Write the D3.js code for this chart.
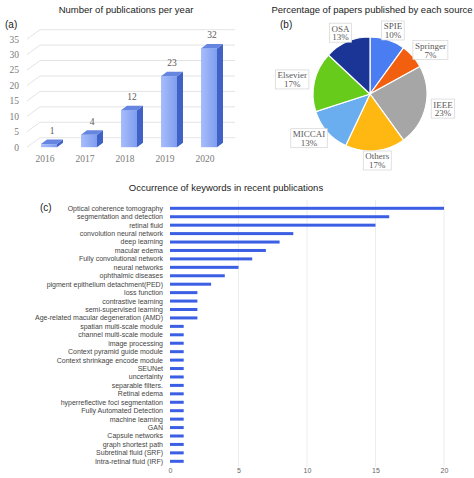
<!DOCTYPE html>
<html><head><meta charset="utf-8">
<script src="https://cdn.jsdelivr.net/npm/d3@7"></script>
<style>body{margin:0;background:#fff}svg{display:block}</style>
</head><body>
<script>
// ---- data ----
const years = ["2016","2017","2018","2019","2020"];
const pubCounts = [1, 4, 12, 23, 32];
const yTicksA = [0,5,10,15,20,25,30,35];

const sources = ["SPIE","Springer","IEEE","Others","MICCAI","Elsevier","OSA"];
const sourcePct = [10, 7, 23, 17, 13, 17, 13];
const sourceColors = ["#4a7cf2","#f2600f","#a6a6a6","#ffb812","#6aaef0","#67cb1c","#1b3596"];

const keywords = ["Optical coherence tomography","segmentation and detection","retinal fluid",
"convolution neural network","deep learning","macular edema","Fully convolutional network",
"neural networks","ophthalmic diseases","pigment epithelium detachment(PED)","loss function",
"contrastive learning","semi-supervised learning","Age-related macular degeneration (AMD)",
"spatian multi-scale module","channel multi-scale module","image processing",
"Context pyramid guide module","Context shrinkage encode module","SEUNet","uncertainty",
"separable filters.","Retinal edema","hyperreflective foci segmentation","Fully Automated Detection",
"machine learning","GAN","Capsule networks","graph shortest path","Subretinal fluid (SRF)",
"Intra-retinal fluid (IRF)"];
const keywordCounts = [20,16,15,9,8,7,6,5,4,3,2,2,2,2,1,1,1,1,1,1,1,1,1,1,1,1,1,1,1,1,1];
const xTicksC = [0,5,10,15,20];

// ---- svg ----
const W = 474, H = 478;
const svg = d3.select("body").append("svg").attr("width", W).attr("height", H);
const sans = "'Liberation Sans', Arial, sans-serif";
const serif = "'Liberation Serif', 'Times New Roman', serif";

// ===== Panel (a) =====
const gA = svg.append("g");
gA.append("text").attr("x",126).attr("y",13).attr("text-anchor","middle")
  .attr("font-family",sans).attr("font-size",9.5).attr("fill","#222").text("Number of publications per year");
gA.append("text").attr("x",5).attr("y",28).attr("font-family",sans).attr("font-size",10).attr("fill","#222").text("(a)");

const yA = d3.scaleLinear().domain([0,35]).range([147.2, 39.2]);
const xA = d3.scaleBand().domain(years).range([25,225]);
const backDx = 13, backDy = -9.5;

yTicksA.forEach(t => {
  const y = yA(t);
  gA.append("path").attr("d", `M${27},${y} L${27+backDx},${y+backDy} L${235},${y+backDy}`)
    .attr("fill","none").attr("stroke","#dcdcdc").attr("stroke-width",0.8);
  gA.append("text").attr("x",19).attr("y",y).attr("dy","0.35em").attr("text-anchor","end")
    .attr("font-family",serif).attr("font-size",9.5).attr("fill","#7a7a7a").text(t);
});

const defs = svg.append("defs");
const grad = defs.append("linearGradient").attr("id","frontGrad").attr("x1",0).attr("x2",1).attr("y1",0).attr("y2",0);
grad.append("stop").attr("offset","0%").attr("stop-color","#a7bdfb");
grad.append("stop").attr("offset","100%").attr("stop-color","#7f9df0");

const bw = 16, dx = 6, dy = -4.5;
years.forEach((yr, i) => {
  const v = pubCounts[i];
  const x0 = xA(yr) + xA.bandwidth()/2 - 4;
  const yTop = yA(v), yBot = yA(0);
  gA.append("path").attr("d", `M${x0+bw},${yTop} L${x0+bw+dx},${yTop+dy} L${x0+bw+dx},${yBot+dy} L${x0+bw},${yBot} Z`)
    .attr("fill","#3f62c4");
  gA.append("rect").attr("x",x0).attr("y",yTop).attr("width",bw).attr("height",yBot-yTop)
    .attr("fill","url(#frontGrad)");
  gA.append("path").attr("d", `M${x0},${yTop} L${x0+dx},${yTop+dy} L${x0+bw+dx},${yTop+dy} L${x0+bw},${yTop} Z`)
    .attr("fill","#6585e0");
  gA.append("text").attr("x",x0+11).attr("y",yTop-10).attr("text-anchor","middle")
    .attr("font-family",serif).attr("font-size",9.5).attr("fill","#595959").text(v);
  gA.append("text").attr("x",xA(yr)+xA.bandwidth()/2).attr("y",159).attr("dy","0.35em").attr("text-anchor","middle")
    .attr("font-family",serif).attr("font-size",9.5).attr("fill","#7a7a7a").text(yr);
});

// ===== Panel (b) =====
const gB = svg.append("g");
gB.append("text").attr("x",372).attr("y",13).attr("text-anchor","middle")
  .attr("font-family",sans).attr("font-size",9.5).attr("fill","#222").text("Percentage of papers published by each source");
gB.append("text").attr("x",280).attr("y",28).attr("font-family",sans).attr("font-size",10).attr("fill","#222").text("(b)");

const cx = 370, cy = 94, R = 57;
const pie = d3.pie().sort(null).value(d => d.v);
const pieData = pie(sources.map((s,i) => ({s, v: sourcePct[i], c: sourceColors[i]})));
const arc = d3.arc().innerRadius(0).outerRadius(R);
const gPie = gB.append("g").attr("transform",`translate(${cx},${cy})`);
gPie.selectAll("path").data(pieData).join("path")
  .attr("d", arc).attr("fill", d => d.data.c).attr("stroke","#fff").attr("stroke-width",1.2);

pieData.forEach(d => {
  const a = (d.startAngle + d.endAngle)/2;
  const s = Math.sin(a), c = Math.cos(a);
  const g = gB.append("g");
  const t1 = g.append("text").attr("text-anchor","middle").attr("font-family",serif)
    .attr("font-size",9).attr("fill","#595959").attr("y",-4.2).attr("dy","0.35em").text(d.data.s);
  const t2 = g.append("text").attr("text-anchor","middle").attr("font-family",serif)
    .attr("font-size",9).attr("fill","#595959").attr("y",4.6).attr("dy","0.35em").text(d.data.v + "%");
  const w = Math.max(t1.node().getComputedTextLength(), t2.node().getComputedTextLength()) + 4;
  const h = 19;
  const lx = cx + (R+6)*s + (w/2)*s;
  const ly = cy - (R+6)*c - (h/2)*c*0.4;
  g.attr("transform",`translate(${lx},${ly})`);
  g.insert("rect","text").attr("x",-w/2).attr("y",-h/2).attr("width",w).attr("height",h)
    .attr("fill","#fff").attr("stroke","#d4d4d4").attr("stroke-width",0.7);
});

// ===== Panel (c) =====
const gC = svg.append("g");
gC.append("text").attr("x",226).attr("y",191).attr("text-anchor","middle")
  .attr("font-family",sans).attr("font-size",9.5).attr("fill","#222").text("Occurrence of keywords in recent publications");
gC.append("text").attr("x",40).attr("y",211).attr("font-family",sans).attr("font-size",10).attr("fill","#222").text("(c)");

const xC = d3.scaleLinear().domain([0,20]).range([170,444]);
const yC = d3.scalePoint().domain(keywords).range([208.3, 461.3]);

xTicksC.forEach(t => {
  if (t > 0) gC.append("line").attr("x1",xC(t)).attr("x2",xC(t)).attr("y1",200).attr("y2",467)
    .attr("stroke","#e8e8e8").attr("stroke-width",0.8);
});
const axC = gC.append("g").attr("transform","translate(0,466)")
  .call(d3.axisBottom(xC).tickValues(xTicksC).tickSize(0).tickPadding(2));
axC.select(".domain").remove();
axC.selectAll("text").attr("font-family",sans).attr("font-size",7).attr("fill","#666");

gC.selectAll("rect.kb").data(keywords).join("rect").attr("class","kb")
  .attr("x", xC(0)).attr("y", d => yC(d) - 1.5)
  .attr("width", (d,i) => xC(keywordCounts[i]) - xC(0)).attr("height", 3)
  .attr("fill","#3b5fe4");
gC.selectAll("text.kl").data(keywords).join("text").attr("class","kl")
  .attr("x",163).attr("y", d => yC(d)).attr("dy","0.35em").attr("text-anchor","end")
  .attr("font-family",sans).attr("font-size",7).attr("fill","#444").text(d => d);
</script>
</body></html>
